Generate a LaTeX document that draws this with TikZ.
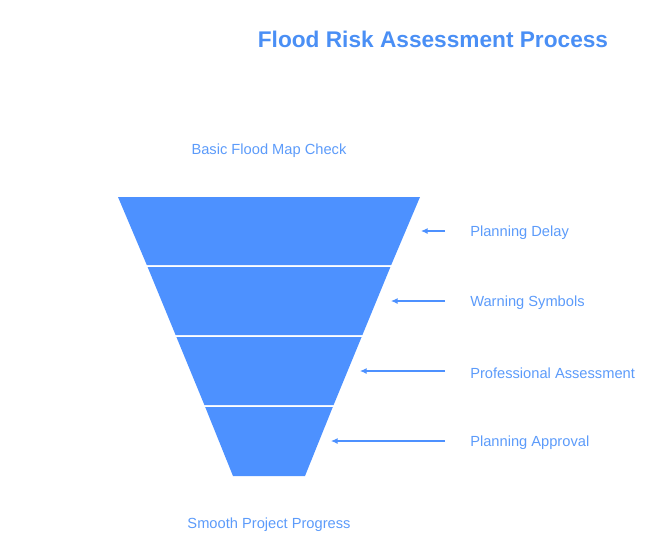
\documentclass[tikz,border=0pt]{standalone}
\usepackage{fontspec}
\setmainfont{Liberation Sans}
\usetikzlibrary{arrows.meta}
\definecolor{funnelblue}{HTML}{4D91FF}
\definecolor{textblue}{HTML}{5C9BFA}
\definecolor{titleblue}{HTML}{4A8FF5}
\tikzset{
  band/.style={fill=funnelblue, draw=none},
  lbl/.style={text=textblue, font=\fontsize{11}{13}\selectfont, inner sep=0pt},
  pointer/.style={draw=funnelblue, line width=0.8pt, -{Latex[length=5pt,width=4.5pt]}}
}
\begin{document}
\begin{tikzpicture}[x=0.75pt, y=-0.75pt]
\useasboundingbox (0,0) rectangle (672,537);
% title
\node[text=titleblue, font=\bfseries\fontsize{17}{20}\selectfont, inner sep=0pt] (title) at (433,39) {Flood Risk Assessment Process};
% funnel bands
\fill[band] (118,197) -- (420,197) -- (391.2,265) -- (146.8,265) -- cycle;
\fill[band] (147.6,267) -- (390.4,267) -- (362.4,335) -- (175.6,335) -- cycle;
\fill[band] (176.4,337) -- (361.6,337) -- (333.6,405) -- (204.4,405) -- cycle;
\fill[band] (205.2,407) -- (332.8,407) -- (305,476) -- (233,476) -- cycle;
% labels top and bottom
\node[lbl] (top) at (269,151) {Basic Flood Map Check};
\node[lbl] (bottom) at (269,525) {Smooth Project Progress};
% side labels
\node[lbl, anchor=west] (delay) at (470,233) {Planning Delay};
\node[lbl, anchor=west] (warn) at (470,303) {Warning Symbols};
\node[lbl, anchor=west] (prof) at (470,373) {Professional Assessment};
\node[lbl, anchor=west] (appr) at (470,443) {Planning Approval};
% arrow ends
\coordinate (s1) at (445,231);
\coordinate (s2) at (445,301);
\coordinate (s3) at (445,371);
\coordinate (s4) at (445,441);
\coordinate (t1) at (421,231);
\coordinate (t2) at (391,301);
\coordinate (t3) at (360,371);
\coordinate (t4) at (331,441);
\draw[pointer] (s1) -- (t1);
\draw[pointer] (s2) -- (t2);
\draw[pointer] (s3) -- (t3);
\draw[pointer] (s4) -- (t4);
\end{tikzpicture}
\end{document}
